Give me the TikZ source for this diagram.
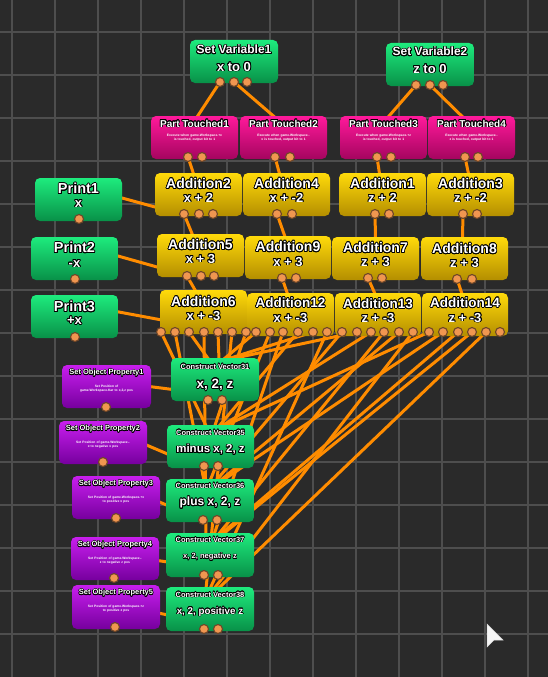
\documentclass[tikz,border=0pt]{standalone}
\usepackage{fontspec}
\setmainfont{Liberation Sans}
\usepackage[copies]{contour}
\usetikzlibrary{calc}
\definecolor{bgc}{RGB}{42,42,42}
\definecolor{gridc}{RGB}{78,78,78}
\definecolor{wirec}{RGB}{255,140,0}
\definecolor{portc}{RGB}{240,150,80}
\definecolor{portd}{RGB}{110,70,40}
\definecolor{grtop}{RGB}{30,235,125}
\definecolor{grmid}{RGB}{20,212,108}
\definecolor{grbot}{RGB}{8,145,72}
\definecolor{pktop}{RGB}{255,25,155}
\definecolor{pkmid}{RGB}{232,15,138}
\definecolor{pkbot}{RGB}{165,5,95}
\definecolor{yltop}{RGB}{255,218,10}
\definecolor{ylmid}{RGB}{238,198,0}
\definecolor{ylbot}{RGB}{180,142,0}
\definecolor{pptop}{RGB}{200,30,238}
\definecolor{ppmid}{RGB}{172,12,212}
\definecolor{ppbot}{RGB}{118,0,158}
\newcommand\ol[2][0.8pt]{\contourlength{#1}\contour{black}{#2}}
\newcommand\blk[6]{\node[#2, minimum width={(#5)-(#3)}, minimum height={(#6)-(#4)}] (#1) at ({((#3)+(#5))/2},{((#4)+(#6))/2}) {};}
\pgfdeclarelayer{gridlayer}
\pgfdeclarelayer{wirelayer}
\pgfsetlayers{gridlayer,wirelayer,main}
\begin{document}
\begin{tikzpicture}[x=1pt,y=-1pt,
  box/.style={rounded corners=5pt, inner sep=0pt, draw=none},
  gbox/.style={box, top color=grtop, middle color=grmid, bottom color=grbot},
  pbox/.style={box, top color=pktop, middle color=pkmid, bottom color=pkbot},
  ybox/.style={box, top color=yltop, middle color=ylmid, bottom color=ylbot},
  vbox/.style={box, top color=pptop, middle color=ppmid, bottom color=ppbot},
  port/.style={circle, minimum size=9pt, inner sep=0pt, fill=portc, draw=portd, line width=1.1pt},
  wire/.style={draw=wirec, line width=3pt, line cap=round},
  gridline/.style={draw=gridc, line width=2pt},
  txt/.style={text=white, inner sep=0pt, font=\bfseries\fontsize{#1}{#1}\selectfont},
  tiny/.style={text=white, inner sep=0pt, align=center, text width=66pt, font=\bfseries\fontsize{3.3}{4}\selectfont}
]
\useasboundingbox (0,0) rectangle (548,677);
\begin{pgfonlayer}{gridlayer}
\fill[bgc] (0,0) rectangle (548,677);
\foreach \gx in {12,55,...,528} \draw[gridline] (\gx,0) -- (\gx,677);
\foreach \gy in {32,75,...,676} \draw[gridline] (0,\gy) -- (548,\gy);
\end{pgfonlayer}

% ---------- boxes ----------
\blk{sv1}{gbox}{190}{40}{278}{83}
\blk{sv2}{gbox}{386}{43}{474}{86}
\blk{pt1}{pbox}{151}{116}{238}{159}
\blk{pt2}{pbox}{240}{116}{327}{159}
\blk{pt3}{pbox}{340}{116}{427}{159}
\blk{pt4}{pbox}{428}{116}{515}{159}
\blk{add2}{ybox}{155}{173}{242}{216}
\blk{add4}{ybox}{243}{173}{330}{216}
\blk{add1}{ybox}{339}{173}{426}{216}
\blk{add3}{ybox}{427}{173}{514}{216}
\blk{print1}{gbox}{35}{178}{122}{221}
\blk{print2}{gbox}{31}{237}{118}{280}
\blk{print3}{gbox}{31}{295}{118}{338}
\blk{add5}{ybox}{157}{234}{244}{277}
\blk{add9}{ybox}{245}{236}{331}{279}
\blk{add7}{ybox}{332}{237}{419}{280}
\blk{add8}{ybox}{421}{237}{508}{280}
\blk{add6}{ybox}{160}{290}{247}{334}
\blk{add12}{ybox}{247}{293}{334}{336}
\blk{add13}{ybox}{335}{293}{421}{336}
\blk{add14}{ybox}{422}{293}{508}{336}
\blk{cv31}{gbox}{171}{358}{259}{401}
\blk{cv35}{gbox}{167}{425}{254}{468}
\blk{cv36}{gbox}{166}{479}{254}{522}
\blk{cv37}{gbox}{166}{533}{254}{577}
\blk{cv38}{gbox}{166}{587}{254}{631}
\blk{sop1}{vbox}{62}{365}{151}{408}
\blk{sop2}{vbox}{59}{421}{147}{464}
\blk{sop3}{vbox}{72}{476}{160}{519}
\blk{sop4}{vbox}{71}{537}{159}{580}
\blk{sop5}{vbox}{72}{585}{160}{629}

% ---------- texts ----------
\node[txt=12] (sv1t) at (234,50) {\ol{Set Variable1}};
\node[txt=13] (sv1s) at (234,67) {\ol{x to 0}};
\node[txt=12] (sv2t) at (430,52) {\ol{Set Variable2}};
\node[txt=13] (sv2s) at (430,69) {\ol{z to 0}};
\node[txt=10] (pt1t) at (194.5,124) {\ol[0.7pt]{Part Touched1}};
\node[txt=10] (pt2t) at (283.5,124) {\ol[0.7pt]{Part Touched2}};
\node[txt=10] (pt3t) at (383.5,124) {\ol[0.7pt]{Part Touched3}};
\node[txt=10] (pt4t) at (471.5,124) {\ol[0.7pt]{Part Touched4}};
\node[tiny] (pt1s) at (194.5,138) {Execute when game.Workspace.+x is touched, output bit to 1};
\node[tiny] (pt2s) at (283.5,138) {Execute when game.Workspace.-x is touched, output bit to 1};
\node[tiny] (pt3s) at (383.5,138) {Execute when game.Workspace.+z is touched, output bit to 1};
\node[tiny] (pt4s) at (471.5,138) {Execute when game.Workspace.-z is touched, output bit to 1};
\node[txt=14] (add2t) at (198.5,184) {\ol{Addition2}};
\node[txt=13] (add2s) at (198.5,198) {\ol{x + 2}};
\node[txt=14] (add4t) at (286.5,184) {\ol{Addition4}};
\node[txt=13] (add4s) at (286.5,198) {\ol{x + -2}};
\node[txt=14] (add1t) at (382.5,184) {\ol{Addition1}};
\node[txt=13] (add1s) at (382.5,198) {\ol{z + 2}};
\node[txt=14] (add3t) at (470.5,184) {\ol{Addition3}};
\node[txt=13] (add3s) at (470.5,198) {\ol{z + -2}};
\node[txt=14.5] (print1t) at (78.5,189) {\ol{Print1}};
\node[txt=13] (print1s) at (78.5,204) {\ol{x}};
\node[txt=14.5] (print2t) at (74.5,248) {\ol{Print2}};
\node[txt=13] (print2s) at (74.5,264) {\ol{-x}};
\node[txt=14.5] (print3t) at (74.5,307) {\ol{Print3}};
\node[txt=13] (print3s) at (74.5,321) {\ol{+x}};
\node[txt=14] (add5t) at (200.5,245) {\ol{Addition5}};
\node[txt=13] (add5s) at (200.5,259) {\ol{x + 3}};
\node[txt=14] (add9t) at (288,247) {\ol{Addition9}};
\node[txt=13] (add9s) at (288,262) {\ol{x + 3}};
\node[txt=14] (add7t) at (375.5,248) {\ol{Addition7}};
\node[txt=13] (add7s) at (375.5,262) {\ol{z + 3}};
\node[txt=14] (add8t) at (464.5,249) {\ol{Addition8}};
\node[txt=13] (add8s) at (464.5,263) {\ol{z + 3}};
\node[txt=14] (add6t) at (203.5,302) {\ol{Addition6}};
\node[txt=13] (add6s) at (203.5,316) {\ol{x + -3}};
\node[txt=13.5] (add12t) at (290.5,303) {\ol{Addition12}};
\node[txt=13] (add12s) at (290.5,318) {\ol{x + -3}};
\node[txt=13.5] (add13t) at (378,304) {\ol{Addition13}};
\node[txt=13] (add13s) at (378,318) {\ol{z + -3}};
\node[txt=13.5] (add14t) at (465,303) {\ol{Addition14}};
\node[txt=13] (add14s) at (465,318) {\ol{z + -3}};
\node[txt=7.5] (cv31t) at (215,367) {\ol[0.5pt]{Construct Vector31}};
\node[txt=13.5] (cv31s) at (215,385) {\ol{x, 2, z}};
\node[txt=7.5] (cv35t) at (210.5,433) {\ol[0.5pt]{Construct Vector35}};
\node[txt=11.5] (cv35s) at (210.5,450) {\ol{minus x, 2, z}};
\node[txt=7.5] (cv36t) at (210,486) {\ol[0.5pt]{Construct Vector36}};
\node[txt=12] (cv36s) at (210,503) {\ol{plus x, 2, z}};
\node[txt=7.5] (cv37t) at (210,540) {\ol[0.5pt]{Construct Vector37}};
\node[txt=7.6] (cv37s) at (210,557) {\ol[0.5pt]{x, 2, negative z}};
\node[txt=7.5] (cv38t) at (210,595) {\ol[0.5pt]{Construct Vector38}};
\node[txt=9.8] (cv38s) at (210,612) {\ol[0.6pt]{x, 2, positive z}};
\node[txt=7.5] (sop1t) at (106.5,373) {\ol[0.5pt]{Set Object Property1}};
\node[tiny] (sop1s) at (106.5,389) {Set Position of game.Workspace.Kar to x,2,z pos};
\node[txt=7.5] (sop2t) at (103,429) {\ol[0.5pt]{Set Object Property2}};
\node[tiny] (sop2s) at (103,445) {Set Position of game.Workspace.-x to negative x pos};
\node[txt=7.5] (sop3t) at (116,484) {\ol[0.5pt]{Set Object Property3}};
\node[tiny] (sop3s) at (116,500) {Set Position of game.Workspace.+x to positive x pos};
\node[txt=7.5] (sop4t) at (115,545) {\ol[0.5pt]{Set Object Property4}};
\node[tiny] (sop4s) at (115,561) {Set Position of game.Workspace.-z to negative z pos};
\node[txt=7.5] (sop5t) at (116,593) {\ol[0.5pt]{Set Object Property5}};
\node[tiny] (sop5s) at (116,609) {Set Position of game.Workspace.+z to positive z pos};

% ---------- ports ----------
\node[port] (sv1a) at (220,82) {};
\node[port] (sv1b) at (234,82) {};
\node[port] (sv1c) at (247,82) {};
\node[port] (sv2a) at (416,85) {};
\node[port] (sv2b) at (430,85) {};
\node[port] (sv2c) at (443,85) {};
\node[port] (pt1a) at (188,157) {};
\node[port] (pt1b) at (202,157) {};
\node[port] (pt2a) at (275,157) {};
\node[port] (pt2b) at (290,157) {};
\node[port] (pt3a) at (377,157) {};
\node[port] (pt3b) at (391,157) {};
\node[port] (pt4a) at (465,157) {};
\node[port] (pt4b) at (478,157) {};
\node[port] (add2a) at (184,214) {};
\node[port] (add2b) at (199,214) {};
\node[port] (add2c) at (213,214) {};
\node[port] (add4a) at (277,214) {};
\node[port] (add4b) at (292,214) {};
\node[port] (add1a) at (375,214) {};
\node[port] (add1b) at (389,214) {};
\node[port] (add3a) at (463,214) {};
\node[port] (add3b) at (477,214) {};
\node[port] (print1a) at (79,219) {};
\node[port] (print2a) at (75,279) {};
\node[port] (print3a) at (75,337) {};
\node[port] (add5a) at (187,276) {};
\node[port] (add5b) at (201,276) {};
\node[port] (add5c) at (214,276) {};
\node[port] (add9a) at (282,278) {};
\node[port] (add9b) at (296,278) {};
\node[port] (add7a) at (368,278) {};
\node[port] (add7b) at (382,278) {};
\node[port] (add8a) at (457,279) {};
\node[port] (add8b) at (472,279) {};
\foreach \px [count=\i] in {161,175,189,204,218,232,246,256,270,283,298,313,327,342,357,371,384,399,413,429,443,458,472,486,500}
  \node[port] (r\i) at (\px,332) {};
\node[port] (cv31a) at (208,400) {};
\node[port] (cv31b) at (222,400) {};
\node[port] (cv35a) at (204,466) {};
\node[port] (cv35b) at (218,466) {};
\node[port] (cv36a) at (203,520) {};
\node[port] (cv36b) at (217,520) {};
\node[port] (cv37a) at (204,575) {};
\node[port] (cv37b) at (218,575) {};
\node[port] (cv38a) at (204,629) {};
\node[port] (cv38b) at (218,629) {};
\node[port] (sop1a) at (106,407) {};
\node[port] (sop2a) at (103,462) {};
\node[port] (sop3a) at (116,518) {};
\node[port] (sop4a) at (114,578) {};
\node[port] (sop5a) at (115,627) {};

% ---------- wires ----------
\begin{pgfonlayer}{wirelayer}
\draw[wire] (sv1a.center) -- ($(pt1.north)+(2,2)$);
\draw[wire] (sv1b.center) -- ($(pt2.north)+(-8,2)$);
\draw[wire] (sv2a.center) -- ($(pt3.north)+(4,2)$);
\draw[wire] (sv2b.center) -- ($(pt4.north)+(-8,2)$);
\draw[wire] (pt1a.center) -- ($(add2.north)+(-5,1)$);
\draw[wire] (pt2a.center) -- ($(add4.north)+(-7,1)$);
\draw[wire] (pt3a.center) -- ($(add1.north)+(-3,1)$);
\draw[wire] (pt4a.center) -- ($(add3.north)+(-2,1)$);
\draw[wire] (add2a.center) -- ($(add5.north)+(-8,1)$);
\draw[wire] (add4a.center) -- ($(add9.north)+(-3,1)$);
\draw[wire] (add1a.center) -- ($(add7.north)+(0,1)$);
\draw[wire] (add3a.center) -- ($(add8.north)+(-2,1)$);
\draw[wire] (add5a.center) -- ($(add6.north)+(-8,1)$);
\draw[wire] (add9a.center) -- ($(add12.north)+(-3,1)$);
\draw[wire] (add7a.center) -- ($(add13.north)+(-3,1)$);
\draw[wire] (add8a.center) -- ($(add14.north)+(-3,1)$);
\draw[wire] ($(print1.east)+(-2,-2)$) -- ($(add2.west)+(2,13)$);
\draw[wire] ($(print2.east)+(-2,-3)$) -- ($(add5.west)+(2,12)$);
\draw[wire] ($(print3.east)+(-2,-5)$) -- ($(add6.west)+(2,8)$);
\draw[wire] ($(sop1.east)+(-2,0)$) -- ($(cv31.west)+(2,10)$);
\draw[wire] ($(sop2.east)+(-2,2)$) -- ($(cv35.west)+(2,8)$);
\draw[wire] ($(sop3.east)+(-2,4)$) -- ($(cv36.west)+(2,5)$);
\draw[wire] ($(sop4.east)+(-2,2)$) -- ($(cv37.west)+(2,7)$);
\draw[wire] ($(sop5.east)+(-2,6)$) -- ($(cv38.west)+(2,6)$);
\foreach \p/\t/\d in {r1/cv35/-4, r2/cv36/-6, r3/cv31/-6, r4/cv37/-4, r5/cv31/4, r6/cv38/-4, r7/cv35/4,
  r8/cv31/8, r9/cv36/0, r10/cv37/4, r11/cv35/8, r12/cv31/10, r13/cv38/0,
  r14/cv36/6, r15/cv31/12, r16/cv35/10, r17/cv37/8, r18/cv36/10, r19/cv38/4,
  r20/cv35/12, r21/cv36/12, r22/cv37/10, r23/cv37/12, r24/cv38/8}
  \draw[wire] (\p.center) -- ($(\t.north)+(\d,2)$);
\end{pgfonlayer}

% ---------- cursor ----------
\filldraw[fill=white!92!gray, draw=white!70!gray, line width=0.5pt] (487,624) -- (503,640) -- (494,640) -- (487,647) -- cycle;
\end{tikzpicture}
\end{document}
